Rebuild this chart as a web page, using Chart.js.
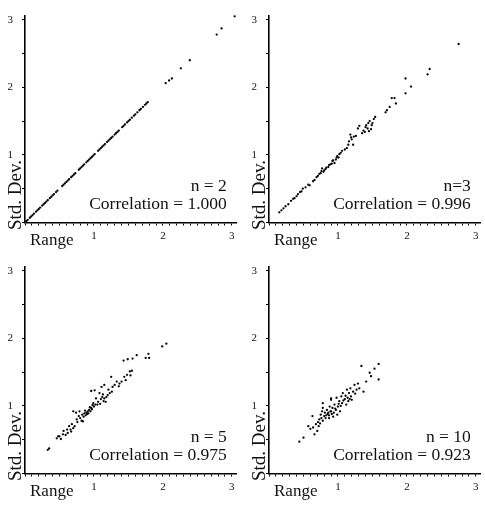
<!DOCTYPE html>
<html>
<head>
<meta charset="utf-8">
<script src="https://cdn.jsdelivr.net/npm/chart.js@4.4.1/dist/chart.umd.min.js"></script>
<style>
  body { margin: 0; background: #fff; }
  .panel { position: absolute; }
</style>
</head>
<body>
<div class="panel" style="left:0;top:0"><canvas id="c1" width="244" height="252"></canvas></div>
<div class="panel" style="left:244px;top:0"><canvas id="c2" width="244" height="252"></canvas></div>
<div class="panel" style="left:0;top:251px"><canvas id="c3" width="244" height="252"></canvas></div>
<div class="panel" style="left:244px;top:251px"><canvas id="c4" width="244" height="252"></canvas></div>
<script>
//Panel labels
const nLabels = ["n = 2", "n=3", "n = 5", "n = 10"];
const correlations = ["1.000", "0.996", "0.975", "0.923"];

//n = 2
const rangeN2 = [0.02,0.04,0.07,0.09,0.11,0.13,0.16,0.18,0.2,0.22,0.25,0.27,0.29,0.31,0.33,0.36,0.38,0.4,0.42,0.45,0.47,
  0.54,0.56,0.58,0.6,0.62,0.64,0.67,0.69,0.71,0.73,0.78,0.8,0.82,0.84,0.86,0.89,0.91,0.93,0.95,0.97,0.99,1.01,
  1.06,1.08,1.1,1.12,1.14,1.16,1.19,1.21,1.23,1.25,1.27,1.3,1.32,1.34,1.36,1.41,1.43,1.45,1.48,1.5,1.52,1.55,
  1.58,1.6,1.63,1.66,1.68,1.71,1.74,1.76,1.78,2.04,2.09,2.13,2.26,2.39,2.78,2.85,3.04];
const sdN2 = [0.02,0.04,0.07,0.09,0.11,0.13,0.16,0.18,0.2,0.22,0.25,0.27,0.29,0.31,0.33,0.36,0.38,0.4,0.42,0.45,0.47,
  0.54,0.56,0.58,0.6,0.62,0.64,0.67,0.69,0.71,0.73,0.78,0.8,0.82,0.84,0.86,0.89,0.91,0.93,0.95,0.97,0.99,1.01,
  1.06,1.08,1.1,1.12,1.14,1.16,1.19,1.21,1.23,1.25,1.27,1.3,1.32,1.34,1.36,1.41,1.43,1.45,1.48,1.5,1.52,1.55,
  1.58,1.6,1.63,1.66,1.68,1.71,1.74,1.76,1.78,2.06,2.1,2.13,2.28,2.4,2.78,2.87,3.05];

//n = 3
const rangeN3 = [0.15,0.18,0.21,0.24,0.28,0.32,0.35,0.37,0.4,0.42,0.45,0.47,0.49,0.53,0.57,0.59,0.64,0.66,0.69,0.71,
  0.73,0.75,0.76,0.77,0.79,0.8,0.82,0.83,0.86,0.87,0.89,0.91,0.92,0.93,0.95,0.97,0.98,0.99,1.01,1.02,1.04,1.06,
  1.1,1.13,1.15,1.16,1.18,1.19,1.2,1.22,1.23,1.26,1.29,1.31,1.35,1.37,1.39,1.41,1.43,1.44,1.46,1.49,1.5,1.52,
  1.54,1.45,1.48,1.4,1.69,1.71,1.75,1.78,1.82,1.84,1.98,1.98,2.06,2.3,2.33,2.75];
const sdN3 = [0.15,0.18,0.21,0.24,0.27,0.32,0.35,0.36,0.39,0.42,0.45,0.46,0.5,0.52,0.56,0.55,0.61,0.63,0.67,0.69,
  0.72,0.73,0.76,0.8,0.75,0.77,0.79,0.81,0.82,0.85,0.86,0.87,0.91,0.92,0.88,0.93,0.96,0.98,0.96,1.01,1.03,1.06,
  1.08,1.1,1.15,1.2,1.3,1.26,1.23,1.15,1.27,1.28,1.39,1.43,1.32,1.36,1.34,1.44,1.39,1.47,1.5,1.44,1.47,1.53,
  1.56,1.35,1.38,1.41,1.63,1.66,1.71,1.84,1.84,1.76,1.91,2.13,2.01,2.19,2.27,2.64];

//n = 5
const rangeN5 = [0.33,0.35,0.46,0.48,0.5,0.52,0.55,0.56,0.59,0.61,0.62,0.64,0.66,0.67,0.68,0.7,0.7,0.72,0.74,0.75,
  0.76,0.78,0.79,0.8,0.82,0.83,0.84,0.85,0.86,0.87,0.88,0.89,0.9,0.91,0.92,0.93,0.94,0.95,0.96,0.96,0.97,0.98,
  0.99,1.0,1.01,1.02,1.03,1.05,1.06,1.08,1.09,1.1,1.11,1.12,1.13,1.14,1.15,1.15,1.17,1.18,1.2,1.21,1.23,1.25,
  1.26,1.27,1.3,1.33,1.36,1.37,1.4,1.43,1.44,1.46,1.48,1.49,1.52,1.53,1.55,1.56,1.62,1.75,1.79,1.8,1.99,2.05];
const sdN5 = [0.35,0.37,0.52,0.55,0.55,0.51,0.58,0.63,0.57,0.65,0.6,0.7,0.65,0.62,0.73,0.67,0.92,0.7,0.9,0.8,
  0.76,0.85,0.92,0.82,0.78,0.87,0.77,0.84,0.89,0.93,0.86,0.9,0.88,0.92,0.89,0.94,0.98,0.92,0.97,1.22,0.95,1.01,
  1.04,0.99,1.23,1.02,1.11,1.02,1.06,1.19,1.03,1.1,1.28,1.13,1.17,1.07,1.31,1.11,1.06,1.13,1.16,1.24,1.19,1.43,
  1.21,1.28,1.31,1.36,1.29,1.33,1.36,1.67,1.43,1.38,1.46,1.69,1.51,1.45,1.52,1.7,1.75,1.71,1.77,1.71,1.88,1.92];

//n = 10
const rangeN10 = [0.44,0.5,0.57,0.6,0.63,0.64,0.66,0.68,0.7,0.71,0.72,0.73,0.74,0.75,0.76,0.77,0.78,0.78,0.8,0.81,
  0.82,0.83,0.84,0.85,0.86,0.87,0.87,0.88,0.89,0.9,0.9,0.91,0.92,0.93,0.94,0.95,0.96,0.97,0.98,0.99,1.0,1.01,
  1.02,1.03,1.04,1.05,1.06,1.07,1.08,1.1,1.11,1.12,1.13,1.14,1.15,1.16,1.17,1.18,1.19,1.2,1.22,1.24,1.25,1.27,
  1.29,1.31,1.34,1.37,1.41,1.46,1.48,1.53,1.59,1.59,0.78,0.9];
const sdN10 = [0.47,0.53,0.7,0.66,0.85,0.68,0.58,0.73,0.63,0.76,0.7,0.8,0.74,0.87,0.82,0.92,0.97,0.78,0.85,0.9,
  0.82,0.86,0.94,0.88,0.9,0.82,0.86,0.99,0.92,1.09,0.92,0.88,0.97,0.84,0.9,1.02,0.96,0.94,1.12,0.87,0.99,1.03,
  1.07,0.92,1.0,1.14,1.04,1.19,1.08,1.1,1.15,1.02,1.24,1.12,1.07,1.19,1.1,1.26,1.14,1.09,1.21,1.31,1.18,1.24,
  1.33,1.26,1.59,1.21,1.36,1.49,1.44,1.55,1.62,1.39,1.04,1.11];

const FONT = '"Liberation Serif", "Times New Roman", serif';

//Draws the n label, correlation and the axis titles
const panelText = {
  id: "panelText",
  afterDraw(chart, args, opts) {
    const ctx = chart.ctx;
    const a = chart.chartArea;
    const left = chart.scales.x.getPixelForValue(0);
    const bottom = chart.scales.y.getPixelForValue(0);
    const right = chart.scales.x.getPixelForValue(3);
    ctx.save();
    ctx.fillStyle = "#111";
    ctx.textAlign = "right";
    ctx.textBaseline = "alphabetic";
    ctx.font = "17.5px " + FONT;
    ctx.fillText(opts.n, right - 5, bottom - 31.5);
    ctx.fillText("Correlation = " + opts.corr, right - 5, bottom - 13.5);

    ctx.textAlign = "left";
    ctx.font = "17px " + FONT;
    ctx.fillText("Range", left + 5, bottom + 22.5);

    ctx.translate(left - 4, bottom + 7.5);
    ctx.rotate(-Math.PI / 2);
    ctx.font = "19px " + FONT;
    ctx.fillText("Std. Dev.", 0, 0);
    ctx.restore();
  },
};

const intLabel = v => {
  const r = Math.round(v);
  return Math.abs(v - r) < 1e-6 && r > 0 ? String(r) : "";
};

const makePanel = (id, ranges, sds, n, corr) => {
  const data = ranges.map((x, i) => ({ x, y: sds[i] }));
  return new Chart(document.getElementById(id), {
    type: "scatter",
    data: {
      datasets: [
        {
          data,
          pointRadius: 1.15,
          pointHoverRadius: 1.15,
          pointBackgroundColor: "#000",
          pointBorderWidth: 0,
          clip: false,
        },
      ],
    },
    options: {
      responsive: false,
      animation: false,
      events: [],
      layout: { padding: { top: 12, right: 8, left: 0, bottom: 0 } },
      plugins: {
        legend: { display: false },
        tooltip: { enabled: false },
        panelText: { n, corr },
      },
      scales: {
        x: {
          type: "linear",
          min: 0,
          max: 3.06,
          border: { display: true, color: "#000", width: 1.6 },
          grid: { drawOnChartArea: false, drawTicks: true, tickLength: 3, color: "#000" },
          ticks: {
            stepSize: 0.1,
            autoSkip: false,
            includeBounds: false,
            maxRotation: 0,
            padding: 4,
            color: "#111",
            font: { family: FONT, size: 11 },
            callback: intLabel,
          },
          afterFit: s => { s.height = 29.5; },
        },
        y: {
          type: "linear",
          min: 0,
          max: 3.06,
          border: { display: true, color: "#000", width: 1.6 },
          grid: { drawOnChartArea: false, drawTicks: true, tickLength: 3, color: "#000" },
          ticks: {
            stepSize: 0.5,
            autoSkip: false,
            includeBounds: false,
            padding: 9,
            color: "#111",
            font: { family: FONT, size: 11 },
            callback: intLabel,
          },
          afterFit: s => { s.width = 25; },
        },
      },
    },
    plugins: [panelText],
  });
};

makePanel("c1", rangeN2, sdN2, nLabels[0], correlations[0]);
makePanel("c2", rangeN3, sdN3, nLabels[1], correlations[1]);
makePanel("c3", rangeN5, sdN5, nLabels[2], correlations[2]);
makePanel("c4", rangeN10, sdN10, nLabels[3], correlations[3]);
</script>
</body>
</html>
